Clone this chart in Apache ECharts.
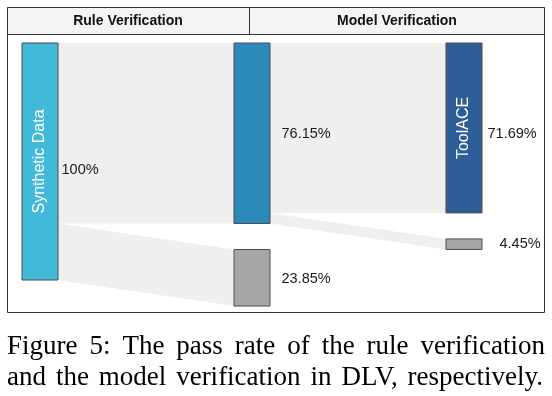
<!DOCTYPE html>
<html><head><meta charset="utf-8">
<script src="https://cdn.jsdelivr.net/npm/echarts@6/dist/echarts.min.js"></script>
<style>html,body{margin:0;padding:0;background:#fff}#c{width:552px;height:396px}</style>
</head><body><div id="c"></div>
<script>
const nodeNames = ['Synthetic Data', 'Rule Pass', 'Rule Fail', 'ToolACE', 'Model Fail'];
const nodeValues = [100, 76.15, 23.85, 71.69, 4.45];
const nodeInnerLabels = ['Synthetic Data', '', '', 'ToolACE', ''];
const nodeColors = ['#43b9d9', '#2b8aba', '#a6a6a6', '#2e5e97', '#a6a6a6'];
const linkSources = ['Synthetic Data', 'Synthetic Data', 'Rule Pass', 'Rule Pass'];
const linkTargets = ['Rule Pass', 'Rule Fail', 'ToolACE', 'Model Fail'];
const linkValues = [76.15, 23.85, 71.69, 4.45];
const headers = ['Rule Verification', 'Model Verification'];
const captionLines = ['Figure 5: The pass rate of the rule verification', 'and the model verification in DLV, respectively.'];

const labelDistance = [3, 11, 11, 5, 17];
const labelOffsetY = [8, 1, 1, 6, 0];

const links = linkSources.map((s, i) => ({source: s, target: linkTargets[i], value: linkValues[i]}));
const nodesOuter = nodeNames.map((n, i) => ({
  name: n,
  itemStyle: {color: nodeColors[i], borderColor: '#4d4d4d', borderWidth: 1},
  label: {distance: labelDistance[i], offset: [0, labelOffsetY[i]]}
}));
const nodesInner = nodeNames.map((n, i) => ({
  name: n,
  itemStyle: {color: 'transparent', borderWidth: 0}
}));

const common = {
  type: 'sankey', left: 22, right: 70, top: 43, bottom: 90,
  nodeWidth: 36, nodeGap: 26, layoutIterations: 0, nodeAlign: 'left',
  draggable: false, emphasis: {disabled: true}, animation: false
};

// justified caption lines (like the LaTeX figure caption)
const capFont = '27px "Liberation Serif", "Times New Roman", serif';
const ctx = document.createElement('canvas').getContext('2d');
ctx.font = capFont;
function justifiedLine(text, x0, x1, y) {
  const words = text.split(' ');
  const widths = words.map(w => ctx.measureText(w).width);
  const total = widths.reduce((a, b) => a + b, 0);
  const gap = (x1 - x0 - total) / (words.length - 1);
  let x = x0;
  return words.map((w, i) => {
    const el = {type: 'text', x: x, y: y, style: {text: w, font: capFont, fill: '#000', align: 'left', verticalAlign: 'middle'}};
    x += widths[i] + gap;
    return el;
  });
}

const chart = echarts.init(document.getElementById('c'));
chart.setOption({
  animation: false,
  graphic: [
    {type: 'rect', shape: {x: 7.5, y: 7.5, width: 537, height: 305}, style: {fill: 'none', stroke: '#333', lineWidth: 1}, z: 0},
    {type: 'rect', shape: {x: 7.5, y: 7.5, width: 537, height: 27}, style: {fill: '#f4f4f4', stroke: '#333', lineWidth: 1}, z: 0},
    {type: 'line', shape: {x1: 249.5, y1: 7.5, x2: 249.5, y2: 34.5}, style: {stroke: '#333', lineWidth: 1}},
    {type: 'text', x: 128, y: 21, style: {text: headers[0], font: 'bold 14px "Liberation Sans", Arial, sans-serif', fill: '#111', align: 'center', verticalAlign: 'middle'}},
    {type: 'text', x: 397, y: 21, style: {text: headers[1], font: 'bold 14px "Liberation Sans", Arial, sans-serif', fill: '#111', align: 'center', verticalAlign: 'middle'}}
  ].concat(justifiedLine(captionLines[0], 7, 545, 347), justifiedLine(captionLines[1], 7, 543, 378)),
  series: [
    Object.assign({}, common, {
      data: nodesOuter, links: links,
      lineStyle: {color: '#efefef', opacity: 1, curveness: 0},
      label: {show: true, position: 'right', fontSize: 14.5, color: '#1a1a1a', fontFamily: '"Liberation Sans", Arial, sans-serif',
        formatter: p => nodeValues[nodeNames.indexOf(p.name)] + '%'}
    }),
    Object.assign({}, common, {
      silent: true, data: nodesInner, links: links,
      lineStyle: {color: 'transparent', opacity: 0, curveness: 0},
      label: {show: true, position: 'inside', rotate: 90, fontSize: 16, color: '#fff', fontFamily: '"Liberation Sans", Arial, sans-serif',
        formatter: p => nodeInnerLabels[nodeNames.indexOf(p.name)]}
    })
  ]
});
</script></body></html>
